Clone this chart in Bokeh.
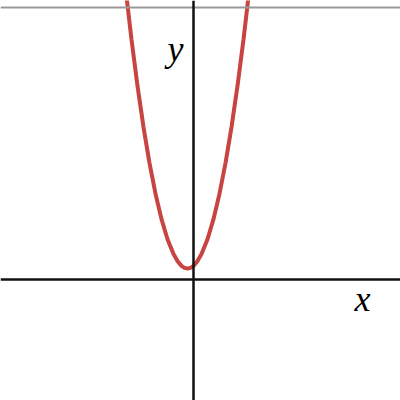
from bokeh.plotting import figure
from bokeh.models import Span, Label
from bokeh.embed import file_html
from bokeh.resources import INLINE

# curve samples (graph units: 1 unit = 20 px)
curve_x = [-3.4, -3.1, -2.8, -2.5, -2.2, -1.9, -1.6, -1.3, -1.0, -0.8, -0.6, -0.45, -0.3,
           -0.15, 0.0, 0.2, 0.4, 0.7, 1.0, 1.3, 1.6, 1.9, 2.2, 2.5, 2.8]
curve_y = [14.58, 12.00, 9.68, 7.62, 5.82, 4.29, 3.02, 2.01, 1.27, 0.92, 0.68, 0.58, 0.55,
           0.58, 0.68, 0.92, 1.27, 2.01, 3.02, 4.29, 5.82, 7.62, 9.68, 12.00, 14.58]
axis_labels = ["x", "y"]

p = figure(width=400, height=400, x_range=(-9.65, 10.35), y_range=(-6.05, 13.95),
           output_backend="svg", toolbar_location=None, min_border=0)
p.axis.visible = False
p.grid.visible = False
p.outline_line_color = None
p.background_fill_color = "white"

p.add_layout(Span(location=13.6, dimension="width", line_color="#999999", line_width=2))
p.add_layout(Span(location=0, dimension="width", line_color="#111111", line_width=2.5))
p.add_layout(Span(location=0, dimension="height", line_color="#111111", line_width=2.5))

p.line(curve_x, curve_y, line_color="#c74440", line_width=4)

p.add_layout(Label(x=8.85, y=-0.95, text=axis_labels[0], text_font="Liberation Serif",
                   text_font_style="italic", text_font_size="36px", text_align="right",
                   text_baseline="alphabetic", text_color="black"))
p.add_layout(Label(x=-0.5, y=11.55, text=axis_labels[1], text_font="Liberation Serif",
                   text_font_style="italic", text_font_size="36px", text_align="right",
                   text_baseline="alphabetic", text_color="black"))

open("out.html", "w").write(file_html(p, INLINE))
